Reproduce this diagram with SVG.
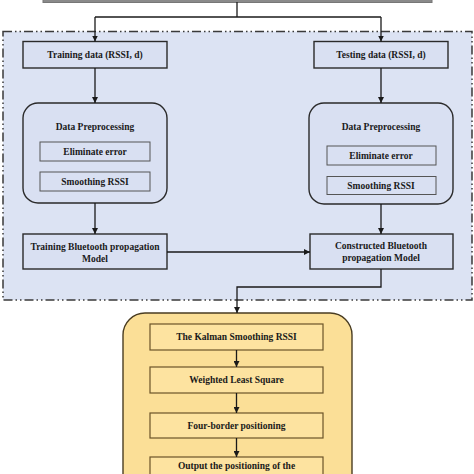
<svg xmlns="http://www.w3.org/2000/svg" width="474" height="474" viewBox="0 0 474 474">
<defs>
<marker id="ah" viewBox="0 0 10 10" refX="10" refY="5" markerWidth="6" markerHeight="6" orient="auto" markerUnits="userSpaceOnUse">
<path d="M0,0 L10,5 L0,10 z" fill="#1a1a1a"/>
</marker>
<style>
text{font-family:"Liberation Serif","Times New Roman",serif;font-weight:bold;font-size:9.5px;fill:#1a1a1a;text-anchor:middle}
.bbox{fill:#d9e0f2;stroke:#2a2a2a;stroke-width:1.4}
.sub{fill:#d9e0f2;stroke:#555;stroke-width:1}
.ybox{fill:#fde3a0;stroke:#6b5428;stroke-width:1.2}
.conn{fill:none;stroke:#1a1a1a;stroke-width:1.3}
</style>
</defs>
<rect x="0" y="0" width="474" height="474" fill="#ffffff"/>
<rect x="43" y="-10" width="389" height="12.5" fill="#8a8a8a" stroke="#777"/>
<rect x="3" y="31.5" width="469" height="268.5" fill="#dce3f3" stroke="#3a3a3a" stroke-width="1.5" stroke-dasharray="9,3,1.5,3,1.5,3"/>
<g id="training-data"><rect class="bbox" x="23" y="41.5" width="144" height="26.5"/><text x="95" y="58">Training data (RSSI, d)</text></g>
<g id="testing-data"><rect class="bbox" x="314" y="41.5" width="134" height="26.5"/><text x="381" y="58">Testing data (RSSI, d)</text></g>
<g id="preproc-left"><rect class="bbox" x="23" y="103" width="144" height="100" rx="15"/><text x="95" y="130">Data Preprocessing</text>
<rect class="sub" x="40" y="142" width="110" height="19"/><text x="95" y="155">Eliminate error</text>
<rect class="sub" x="40" y="172" width="110" height="19"/><text x="95" y="185">Smoothing RSSI</text></g>
<g id="preproc-right"><rect class="bbox" x="309" y="103" width="144" height="101" rx="15"/><text x="381" y="130">Data Preprocessing</text>
<rect class="sub" x="327" y="146" width="109" height="19"/><text x="381" y="159">Eliminate error</text>
<rect class="sub" x="327" y="176.5" width="109" height="18"/><text x="381" y="189">Smoothing RSSI</text></g>
<g id="training-model"><rect class="bbox" x="23" y="234" width="144" height="35"/><text x="95" y="250">Training Bluetooth propagation</text><text x="95" y="262">Model</text></g>
<g id="constructed-model"><rect class="bbox" x="310" y="234" width="143" height="35"/><text x="381" y="249">Constructed Bluetooth</text><text x="381" y="261">propagation Model</text></g>
<g id="positioning"><rect x="123" y="313" width="229" height="190" rx="22" fill="#fbdf97" stroke="#4a3d22" stroke-width="1.4"/>
<g id="kalman"><rect class="ybox" x="150" y="324" width="173" height="26"/><text x="236.5" y="340">The Kalman Smoothing RSSI</text></g>
<g id="wls"><rect class="ybox" x="150" y="367" width="173" height="26"/><text x="236.5" y="383">Weighted Least Square</text></g>
<g id="four-border"><rect class="ybox" x="150" y="413" width="173" height="25"/><text x="236.5" y="428.5">Four-border positioning</text></g>
<g id="output"><rect class="ybox" x="150" y="457" width="173" height="40"/><text x="236.5" y="469">Output the positioning of the</text></g>
</g>
<g id="connectors">
<path class="conn" d="M237,2 V17"/>
<path class="conn" d="M95,17 H381"/>
<path class="conn" d="M95,17 V41.5" marker-end="url(#ah)"/>
<path class="conn" d="M381,17 V41.5" marker-end="url(#ah)"/>
<path class="conn" d="M95,68 V103" marker-end="url(#ah)"/>
<path class="conn" d="M381,68 V103" marker-end="url(#ah)"/>
<path class="conn" d="M95,203 V234" marker-end="url(#ah)"/>
<path class="conn" d="M381,204 V234" marker-end="url(#ah)"/>
<path class="conn" d="M167,252 H310" marker-end="url(#ah)"/>
<path class="conn" d="M381,269 V287 H237 V313" marker-end="url(#ah)"/>
<path class="conn" d="M236.5,350 V367" marker-end="url(#ah)"/>
<path class="conn" d="M236.5,393 V413" marker-end="url(#ah)"/>
<path class="conn" d="M236.5,438 V457" marker-end="url(#ah)"/>
</g>
</svg>
